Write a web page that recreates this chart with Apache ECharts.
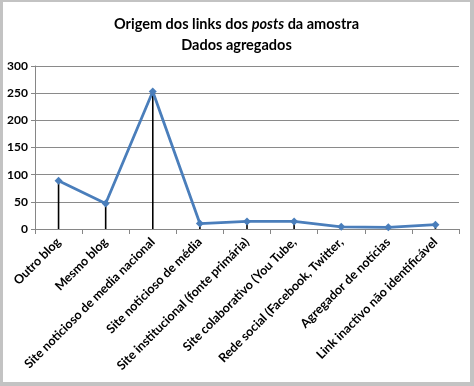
<!DOCTYPE html>
<html><head><meta charset="utf-8">
<script src="https://cdn.jsdelivr.net/npm/echarts@6/dist/echarts.min.js"></script>
<style>
html,body{margin:0;padding:0;background:#c3c3c3;}
#wrap{position:relative;width:474px;height:386px;background:#c3c3c3;overflow:hidden;}
#chart{position:absolute;left:3px;top:2px;width:467px;height:380px;background:#fff;}
</style></head>
<body><div id="wrap"><div id="chart"></div></div>
<script>
const categories = [
  "Outro blog",
  "Mesmo blog",
  "Site noticioso de media nacional",
  "Site noticioso de média",
  "Site institucional (fonte primária)",
  "Site colaborativo (You Tube,",
  "Rede social (Facebook, Twitter,",
  "Agregador de notícias",
  "Link inactivo não identificável"
];
const values = [89, 47, 253, 10, 14, 14, 4, 3, 8];
const yTicks = [0, 50, 100, 150, 200, 250, 300];
const titleLine1 = ["Origem dos links dos ", "posts", " da amostra"];
const titleLine2 = "Dados agregados";

const FONT = "Lato";
const chart = echarts.init(document.getElementById('chart'));
chart.setOption({
  animation: false,
  backgroundColor: '#fff',
  title: {
    text: '{b|' + titleLine1[0] + '}{i|' + titleLine1[1] + '}{b|' + titleLine1[2] + '}\n{b|' + titleLine2 + '}',
    left: 'center',
    top: 7,
    textStyle: {
      rich: {
        b: {fontFamily: FONT, fontWeight: 'bold', fontSize: 14.5, color: '#000', lineHeight: 21},
        i: {fontFamily: FONT, fontWeight: 'bold', fontStyle: 'italic', fontSize: 14.5, color: '#000', lineHeight: 21}
      }
    }
  },
  grid: {left: 32, right: 11, top: 64, bottom: 153},
  xAxis: {
    type: 'category',
    data: categories,
    boundaryGap: true,
    axisLine: {lineStyle: {color: '#868686', width: 1}},
    axisTick: {show: true, length: 5, inside: false, lineStyle: {color: '#868686'}},
    axisLabel: {
      rotate: 45, interval: 0, margin: 11,
      fontFamily: FONT, fontWeight: 'bold', fontSize: 12.5, color: '#000'
    }
  },
  yAxis: {
    type: 'value',
    min: yTicks[0], max: yTicks[yTicks.length - 1], interval: 50,
    axisLine: {show: true, lineStyle: {color: '#868686', width: 1}},
    axisTick: {show: true, length: 4, lineStyle: {color: '#868686'}},
    splitLine: {lineStyle: {color: '#8a8a8a', width: 1}},
    axisLabel: {fontFamily: FONT, fontWeight: 'bold', fontSize: 12, color: '#000', margin: 7}
  },
  series: [
    {
      type: 'bar',
      data: values,
      barWidth: 1.6,
      itemStyle: {color: '#000'},
      z: 1,
      silent: true
    },
    {
      type: 'line',
      data: values,
      symbol: 'diamond',
      symbolSize: 8,
      lineStyle: {color: '#4a7ebb', width: 2.8},
      itemStyle: {color: '#4a7ebb'},
      z: 3
    }
  ]
});
</script></body></html>
